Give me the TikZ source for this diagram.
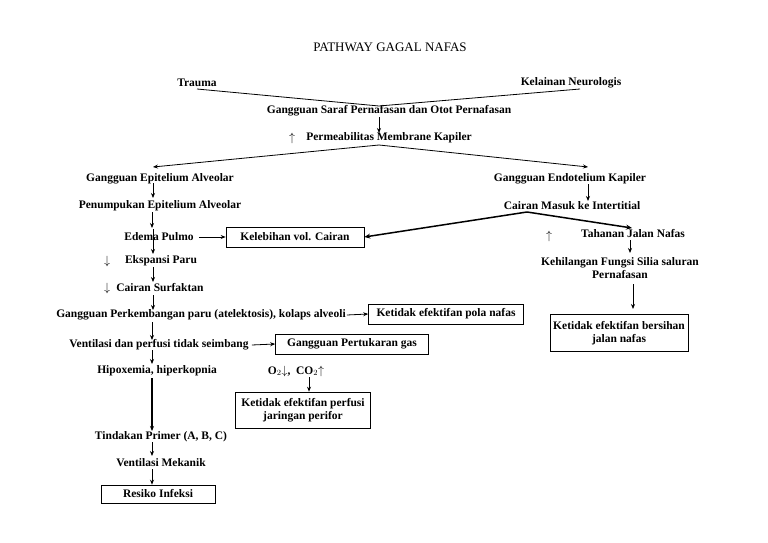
\documentclass[tikz,border=0pt]{standalone}
\usepackage{fontspec}
\setmainfont{Liberation Serif}[BoldFont={Liberation Serif Bold}]
\usetikzlibrary{arrows.meta}
\begin{document}
\begin{tikzpicture}[x=1pt,y=-1pt,
  t/.style={font=\bfseries\fontsize{11.5}{12.5}\selectfont,inner sep=1pt,align=center},
  bx/.style={t,draw,line width=0.6pt,inner sep=3pt},
  ar/.style={-{Stealth[length=5pt,width=4pt]},line width=0.8pt},
  ln/.style={line width=0.8pt},
  tk/.style={-{Stealth[length=6pt,width=5pt]},line width=1.5pt}]
\useasboundingbox (0,0) rectangle (768,543);
\node[font=\fontsize{13}{15}\selectfont] (title) at (390,47) {PATHWAY GAGAL NAFAS};
\node[t] (tr) at (197,83) {Trauma};
\node[t] (kn) at (571,83) {Kelainan Neurologis};
\coordinate (tl) at (197,89); \coordinate (kl) at (580,89);
\coordinate (cv) at (379,106);
\draw[ln] (tl) -- (cv) -- (kl);
\node[t] (gs) at (389,111) {Gangguan Saraf Pernafasan dan Otot Pernafasan};
\coordinate (a1) at (379,117); \coordinate (a1e) at (379,133);
\draw[ar] (a1) -- (a1e);
\node[t] (up1) at (292,138) {$\uparrow$};
\node[t] (pm) at (389,138) {Permeabilitas Membrane Kapiler};
\coordinate (pb) at (379,145); \coordinate (le) at (153,167); \coordinate (re) at (588,167);
\draw[ar] (pb) -- (le); \draw[ar] (pb) -- (re);
% left column
\node[t] (ge) at (160,179) {Gangguan Epitelium Alveolar};
\node[t] (pe) at (160,206) {Penumpukan Epitelium Alveolar};
\node[t] (ed) at (159,237) {Edema Pulmo};
\node[t] (ek) at (161,261) {Ekspansi Paru};
\node[t] (d1) at (107,261) {$\downarrow$};
\node[t] (cs) at (160,288) {Cairan Surfaktan};
\node[t] (d2) at (107,288) {$\downarrow$};
\node[t] (gp) at (201,315) {Gangguan Perkembangan paru (atelektosis), kolaps alveoli};
\node[t] (vp) at (159,345) {Ventilasi dan perfusi tidak seimbang};
\node[t] (hx) at (157,371) {Hipoxemia, hiperkopnia};
\node[t] (tp) at (161,437) {Tindakan Primer (A, B, C)};
\node[t] (vm) at (161,463) {Ventilasi Mekanik};
\node[bx,minimum width=114pt,minimum height=18pt] (ri) at (158,494) {Resiko Infeksi};
\draw[ar] (153,183) -- (153,198);
\draw[ar] (152,212) -- (152,228);
\draw[ln] (153,229) -- (153,252); \draw[ar] (153,250) -- (153,254);
\draw[ar] (153,267) -- (153,282);
\draw[ar] (153,295) -- (153,310);
\draw[ar] (152,322) -- (152,340);
\draw[ar] (152,350) -- (152,364);
\draw[ar,line width=1.3pt] (152,378) -- (152,431);
\draw[ar] (152,442) -- (152,456);
\draw[ar] (152,469) -- (ri.north -| 152,0);
% boxes middle
\node[bx,minimum width=138pt,minimum height=20pt] (kc) at (295,237) {Kelebihan vol. Cairan};
\draw[ar] (ed.east)++(4,0) -- (kc.west);
\node[bx,minimum width=155pt,minimum height=20pt] (kp) at (446,314) {Ketidak efektifan pola nafas};
\draw[ar] (gp.east) -- (kp.west);
\node[bx,minimum width=153pt,minimum height=20pt] (gg) at (352,344) {Gangguan Pertukaran gas};
\draw[ar] (vp.east)++(2,0) -- (gg.west);
\node[t] (oc) at (296,371) {O$_2$$\downarrow$,\ \ CO$_2$$\uparrow$};
\node[bx,minimum width=135pt,minimum height=36pt] (kjp) at (303,410) {Ketidak efektifan perfusi\\jaringan perifor};
\draw[ar] (309,377) -- (kjp.north -| 309,0);
% right column
\node[t] (gek) at (570,179) {Gangguan Endotelium Kapiler};
\node[t] (cm) at (572,206) {Cairan Masuk ke Intertitial};
\draw[ar] (588,184) -- (588,201);
\coordinate (cmb) at (527,212);
\draw[tk] (cmb) -- (kc.east);
\draw[tk] (cmb) -- (632,228);
\node[t] (up2) at (549,236) {$\uparrow$};
\node[t] (tj) at (633,234) {Tahanan Jalan Nafas};
\node[t] (kf) at (620,268) {Kehilangan Fungsi Silia saluran\\Pernafasan};
\draw[ar] (630,240) -- (630,253);
\draw[ar] (633,284) -- (633,309);
\node[bx,minimum width=126pt,minimum height=37pt] (kb) at (619,333) {Ketidak efektifan bersihan\\jalan nafas};
\end{tikzpicture}
\end{document}
